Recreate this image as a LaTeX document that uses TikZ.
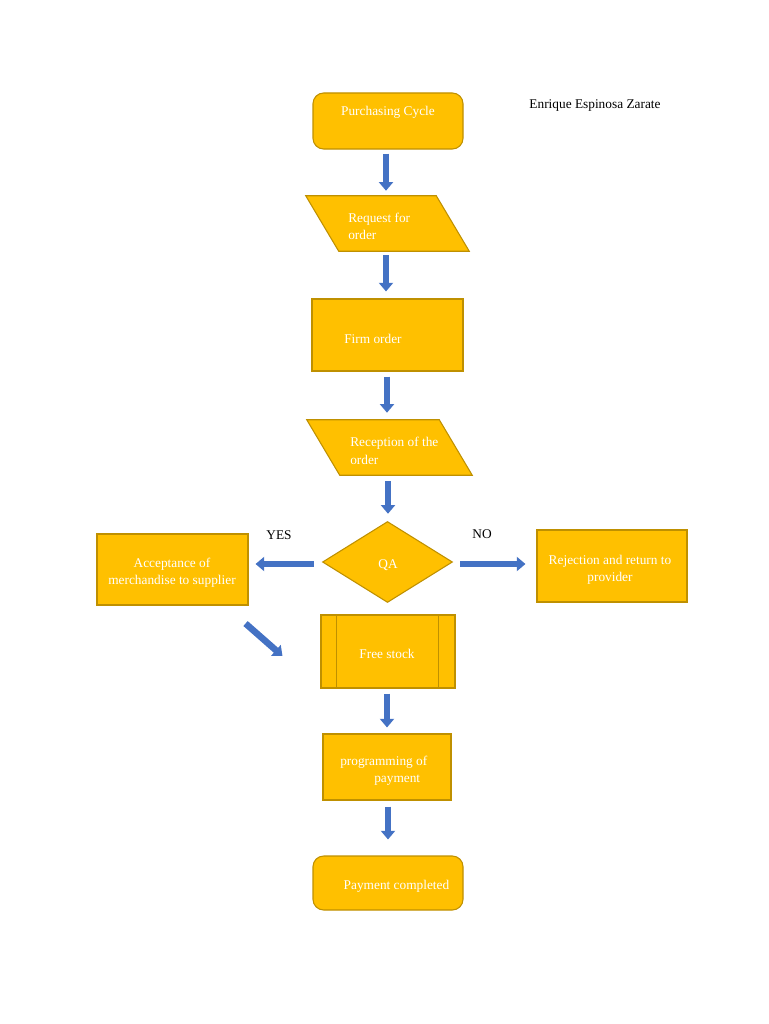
\documentclass[tikz,border=0pt]{standalone}
\usepackage{fontspec}
\setmainfont{Liberation Serif}
\usetikzlibrary{arrows.meta,calc}
\definecolor{gold}{HTML}{FFC000}
\definecolor{goldedge}{HTML}{BF9000}
\definecolor{ablue}{HTML}{4472C4}
\tikzset{
  shapebox/.style={draw=goldedge, fill=gold, line width=0.8pt, inner sep=0pt},
  roundbox/.style={shapebox, rounded corners=8pt},
  ghost/.style={inner sep=0pt},
  txt/.style={text=white, font=\fontsize{10}{13}\selectfont, inner sep=0pt, yshift=-1.5pt},
  lbl/.style={text=black, font=\fontsize{10}{13}\selectfont, inner sep=0pt, yshift=-1.5pt},
  flow/.style={draw=ablue, line width=4.9pt, -{Triangle[width=10.5pt,length=6.5pt]}},
}
\begin{document}
\begin{tikzpicture}[x=0.75pt, y=-0.75pt]
\useasboundingbox (0,0) rectangle (768,1024);

% shapes
\node[roundbox, minimum width=112.5pt, minimum height=42pt] (pc) at (388,121) {};
\node[ghost, minimum width=97.5pt, minimum height=41.25pt] (req) at (387.5,223.5) {};
\draw[shapebox] ($(req.north west)+(-16.5,0)$) -- ($(req.north east)+(-16.5,0)$)
  -- ($(req.south east)+(16.5,0)$) -- ($(req.south west)+(16.5,0)$) -- cycle;
\node[shapebox, minimum width=113.25pt, minimum height=54pt] (firm) at (387.5,335) {};
\node[ghost, minimum width=99pt, minimum height=41.25pt] (rec) at (389.5,447.5) {};
\draw[shapebox] ($(rec.north west)+(-16.5,0)$) -- ($(rec.north east)+(-16.5,0)$)
  -- ($(rec.south east)+(16.5,0)$) -- ($(rec.south west)+(16.5,0)$) -- cycle;
\node[ghost, minimum width=96.75pt, minimum height=60pt] (qa) at (387.5,562) {};
\draw[shapebox] (qa.north) -- (qa.east) -- (qa.south) -- (qa.west) -- cycle;
\node[shapebox, minimum width=113.25pt, minimum height=53.25pt] (acc) at (172.5,569.5) {};
\node[shapebox, minimum width=112.5pt, minimum height=54pt] (rej) at (612,566) {};
\node[shapebox, minimum width=100.5pt, minimum height=54.75pt] (fs) at (388,651.5) {};
\draw[goldedge, line width=0.8pt] ($(fs.north west)+(16,0)$) -- ($(fs.south west)+(16,0)$);
\draw[goldedge, line width=0.8pt] ($(fs.north east)+(-17,0)$) -- ($(fs.south east)+(-17,0)$);
\node[shapebox, minimum width=96pt, minimum height=49.5pt] (prog) at (387,767) {};
\node[roundbox, minimum width=112.5pt, minimum height=40.5pt] (done) at (388,883) {};

% texts
\node[txt] (tpc) at (388,110) {Purchasing Cycle};
\node[txt, anchor=west, align=left] (treq) at (348,224.5) {Request for\\order};
\node[txt, anchor=west] (tfirm) at (344,337) {Firm order};
\node[txt, anchor=west, align=left] (trec) at (350,449) {Reception of the\\order};
\node[txt] (tqa) at (388,563) {QA};
\node[txt, align=center] (tacc) at (172,571) {Acceptance of\\merchandise to supplier};
\node[txt, align=center] (trej) at (610,567.5) {Rejection and return to\\provider};
\node[txt] (tfs) at (387,652) {Free stock};
\node[txt, anchor=west, align=left] (tprog) at (340,769) {programming of\\\hspace*{25.5pt}payment};
\node[txt] (tdone) at (396.5,884) {Payment completed};
\node[lbl] (yes) at (279,533) {YES};
\node[lbl] (no) at (482,532) {NO};
\node[lbl] (author) at (595,104) {Enrique Espinosa Zarate};

% connectors
\draw[flow] ($(pc.south)+(-2,4)$) -- ($(req.north)+(-1.5,-5)$);
\draw[flow] ($(req.south)+(-1.5,4)$) -- ($(firm.north)+(-1.5,-7)$);
\draw[flow] ($(firm.south)+(-0.5,5)$) -- ($(rec.north)+(-2.5,-7)$);
\draw[flow] ($(rec.south)+(-1.5,6)$) -- ($(qa.north)+(0.5,-8)$);
\draw[flow] ($(qa.west)+(-9,2)$) -- ($(acc.east)+(7,-5.5)$);
\draw[flow] ($(qa.east)+(8,2)$) -- ($(rej.west)+(-11,-2)$);
\draw[flow] ($(acc.south east)+(-3,18)$) -- ($(fs.west)+(-38,4.5)$);
\draw[flow] ($(fs.south)+(-1,5)$) -- ($(prog.north)+(0,-6)$);
\draw[flow] ($(prog.south)+(1,6)$) -- ($(done.north)+(0,-16)$);
\end{tikzpicture}
\end{document}
